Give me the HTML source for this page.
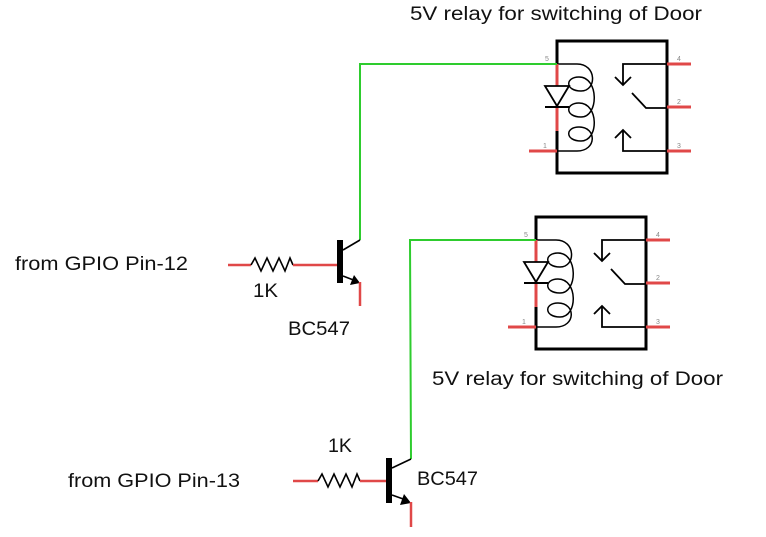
<!DOCTYPE html>
<html><head><meta charset="utf-8"><style>
html,body{margin:0;padding:0;background:#fff;width:766px;height:537px;overflow:hidden}
svg{display:block}
text{font-family:"Liberation Sans","DejaVu Sans",sans-serif;}
</style></head><body>
<svg width="766" height="537" viewBox="0 0 766 537" xmlns="http://www.w3.org/2000/svg">
<defs>
<g id="relay">
  <rect x="0" y="0" width="110" height="132" fill="none" stroke="#000" stroke-width="3"/>
  <path d="M0 23 H20 M0 110 H20" stroke="#000" stroke-width="1.5" fill="none"/>
  <path d="M20 23 C40 23,40 50,24 50 C8 50,8 36,22 36 C42 36,42 76,24 76 C8 76,8 62,22 62 C42 62,42 100,24 100 C8 100,8 86,22 86 C40 86,40 110,20 110" fill="none" stroke="#000" stroke-width="1.5"/>
  <line x1="0" y1="23" x2="0" y2="90" stroke="#e04848" stroke-width="3"/>
  <polygon points="-12,45 12,45 0,65" fill="#fff" stroke="#000" stroke-width="1.8"/>
  <line x1="-12" y1="66" x2="12" y2="66" stroke="#000" stroke-width="2"/>
  <path d="M110 23 H66 V44 M58 36 L66 44 L74 36" stroke="#000" stroke-width="1.8" fill="none"/>
  <path d="M75 52 L89 67 H110" stroke="#000" stroke-width="1.8" fill="none"/>
  <path d="M110 110 H66 V89 M58 97 L66 89 L74 97" stroke="#000" stroke-width="1.8" fill="none"/>
  <g stroke="#e04848" stroke-width="3">
    <line x1="-28" y1="110" x2="0" y2="110"/>
    <line x1="110" y1="23" x2="134" y2="23"/>
    <line x1="110" y1="66" x2="134" y2="66"/>
    <line x1="110" y1="110" x2="134" y2="110"/>
  </g>
  <g fill="#888" font-size="7">
    <text x="-12" y="20">5</text>
    <text x="-14" y="107">1</text>
    <text x="120" y="20">4</text>
    <text x="120" y="63">2</text>
    <text x="120" y="107">3</text>
  </g>
</g>
</defs>

<use href="#relay" x="557" y="41"/>
<use href="#relay" x="536" y="217"/>

<polyline points="557,64 360,64 360,240" fill="none" stroke="#2ecc2e" stroke-width="2"/>
<polyline points="536,240 410,240 411,459" fill="none" stroke="#2ecc2e" stroke-width="2"/>

<g>
  <line x1="228" y1="265" x2="251" y2="265" stroke="#e04848" stroke-width="2.5"/>
  <polyline points="251,265 255,258 261,271 267,258 273,271 279,258 285,271 290,258 293,265" fill="none" stroke="#000" stroke-width="1.6"/>
  <line x1="293" y1="265" x2="340" y2="265" stroke="#e04848" stroke-width="2.5"/>
  <rect x="337" y="240" width="6" height="43" fill="#000"/>
  <line x1="343" y1="250" x2="360" y2="240" stroke="#000" stroke-width="1.6"/>
  <line x1="343" y1="276" x2="356" y2="281" stroke="#000" stroke-width="1.6"/>
  <polygon points="360,283 350,285 354,275" fill="#000"/>
  <line x1="360" y1="282" x2="360" y2="306" stroke="#e04848" stroke-width="2.5"/>
</g>
<g>
  <line x1="293" y1="481" x2="318" y2="481" stroke="#e04848" stroke-width="2.5"/>
  <polyline points="318,481 322,474 328,487 334,474 340,487 346,474 352,487 357,474 360,481" fill="none" stroke="#000" stroke-width="1.6"/>
  <line x1="360" y1="481" x2="389" y2="481" stroke="#e04848" stroke-width="2.5"/>
  <rect x="386" y="458" width="6" height="45" fill="#000"/>
  <line x1="392" y1="468" x2="411" y2="459" stroke="#000" stroke-width="1.6"/>
  <line x1="392" y1="495" x2="406" y2="500" stroke="#000" stroke-width="1.6"/>
  <polygon points="411,503 400,505 404,494" fill="#000"/>
  <line x1="411" y1="502" x2="411" y2="527" stroke="#e04848" stroke-width="2.5"/>
</g>

<g fill="#111" font-size="19">
  <text x="410" y="20" textLength="292" lengthAdjust="spacingAndGlyphs">5V relay for switching of Door</text>
  <text x="432" y="385" textLength="291" lengthAdjust="spacingAndGlyphs">5V relay for switching of Door</text>
  <text x="15" y="270" textLength="173" lengthAdjust="spacingAndGlyphs">from GPIO Pin-12</text>
  <text x="253" y="297" textLength="25" lengthAdjust="spacingAndGlyphs">1K</text>
  <text x="288" y="335" textLength="62" lengthAdjust="spacingAndGlyphs">BC547</text>
  <text x="328" y="452" textLength="24" lengthAdjust="spacingAndGlyphs">1K</text>
  <text x="68" y="487" textLength="172" lengthAdjust="spacingAndGlyphs">from GPIO Pin-13</text>
  <text x="417" y="485" textLength="61" lengthAdjust="spacingAndGlyphs">BC547</text>
</g>
</svg>
</body></html>
